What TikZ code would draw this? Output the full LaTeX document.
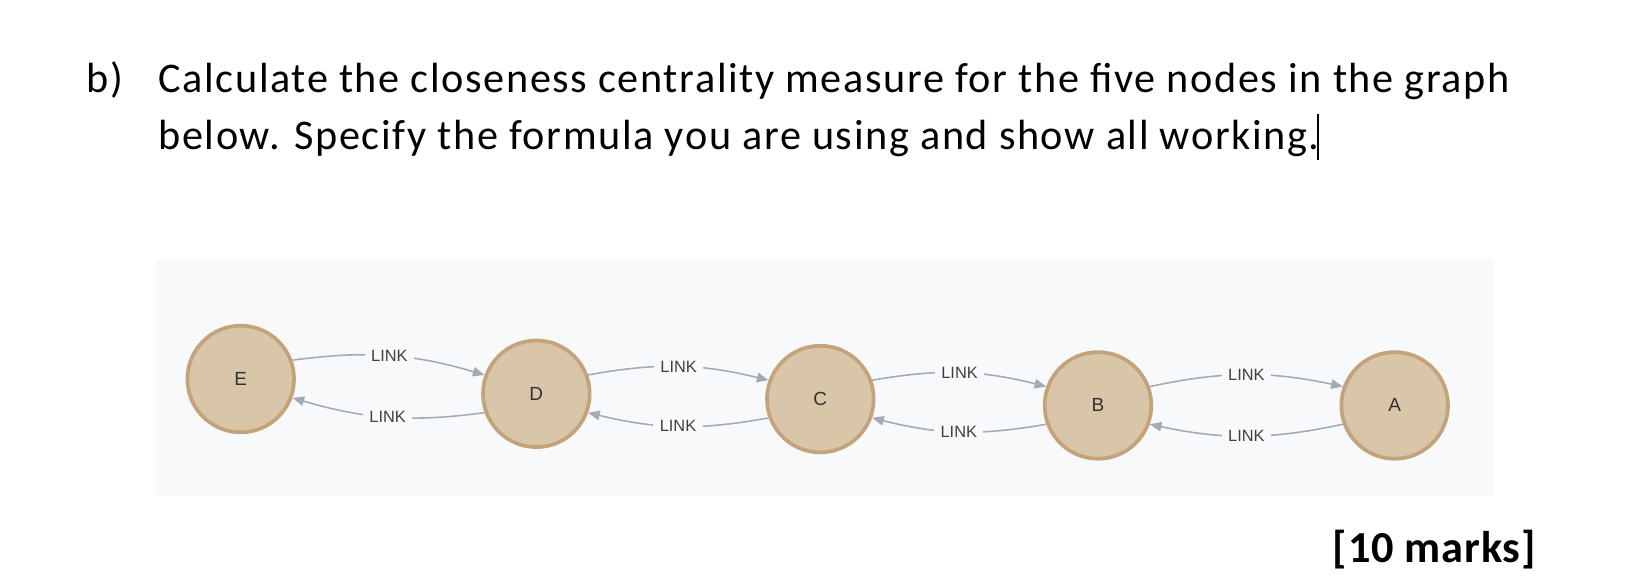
\documentclass[tikz,border=0pt]{standalone}
\usepackage{fontspec}
\setmainfont{Carlito}
\newfontfamily\wide[LetterSpace=3.8]{Carlito}
\newfontfamily\widem[LetterSpace=2]{Carlito}
\newfontfamily\lbl{Liberation Sans}
\usetikzlibrary{arrows.meta}
\definecolor{bgbox}{HTML}{F8F9FB}
\definecolor{nfill}{HTML}{D9C5A8}
\definecolor{nline}{HTML}{C4A37A}
\definecolor{eline}{HTML}{A5ABB6}
\tikzset{
 gnode/.style={circle,draw=nline,fill=nfill,line width=3.5pt,minimum size=101pt,inner sep=0pt,font=\lbl\fontsize{18}{18}\selectfont,text=black!80},
 link/.style={draw=eline,line width=1.5pt,-{Triangle[length=11pt,width=9pt]}},
 lab/.style={fill=bgbox,inner xsep=6pt,inner ysep=2pt,font=\lbl\fontsize{15.5}{16}\selectfont,text=black!75},
 qtext/.style={anchor=base west,inner sep=0pt,font=\wide\fontsize{40}{46}\selectfont},
}
\begin{document}
\begin{tikzpicture}[x=1pt,y=-1pt]
\useasboundingbox (0,0) rectangle (1560,548.4);
\fill[white] (0,0) rectangle (1560,548.4);
\node[qtext] (b) at (82,88) {b)};
\node[qtext] (t1) at (150,88) {Calculate the closeness centrality measure for the five nodes in the graph};
\node[qtext] (t2) at (150,142) {below. Specify the formula you are using and show all working.};
\draw[line width=1pt] (t2.base east)++(-2,10) -- ++(0,-44);
\fill[bgbox] (148,245) rectangle (1415,470);
\node[gnode] (E) at (228,359) {E};
\node[gnode] (D) at (508,373) {D};
\node[gnode] (C) at (777,378) {C};
\node[gnode] (B) at (1040,384) {B};
\node[gnode] (A) at (1321,384) {A};
\foreach \a/\b in {E/D,D/C,C/B,B/A}{
 \draw[link] (\a.20) to[bend left=12] node[lab]{LINK} (\b.160);
 \draw[link] (\b.200) to[bend left=12] node[lab]{LINK} (\a.-20);
}
\node[anchor=base east,inner sep=0pt,font=\widem\bfseries\fontsize{42}{48}\selectfont] (m) at (1455,533) {[10 marks]};
\end{tikzpicture}
\end{document}
